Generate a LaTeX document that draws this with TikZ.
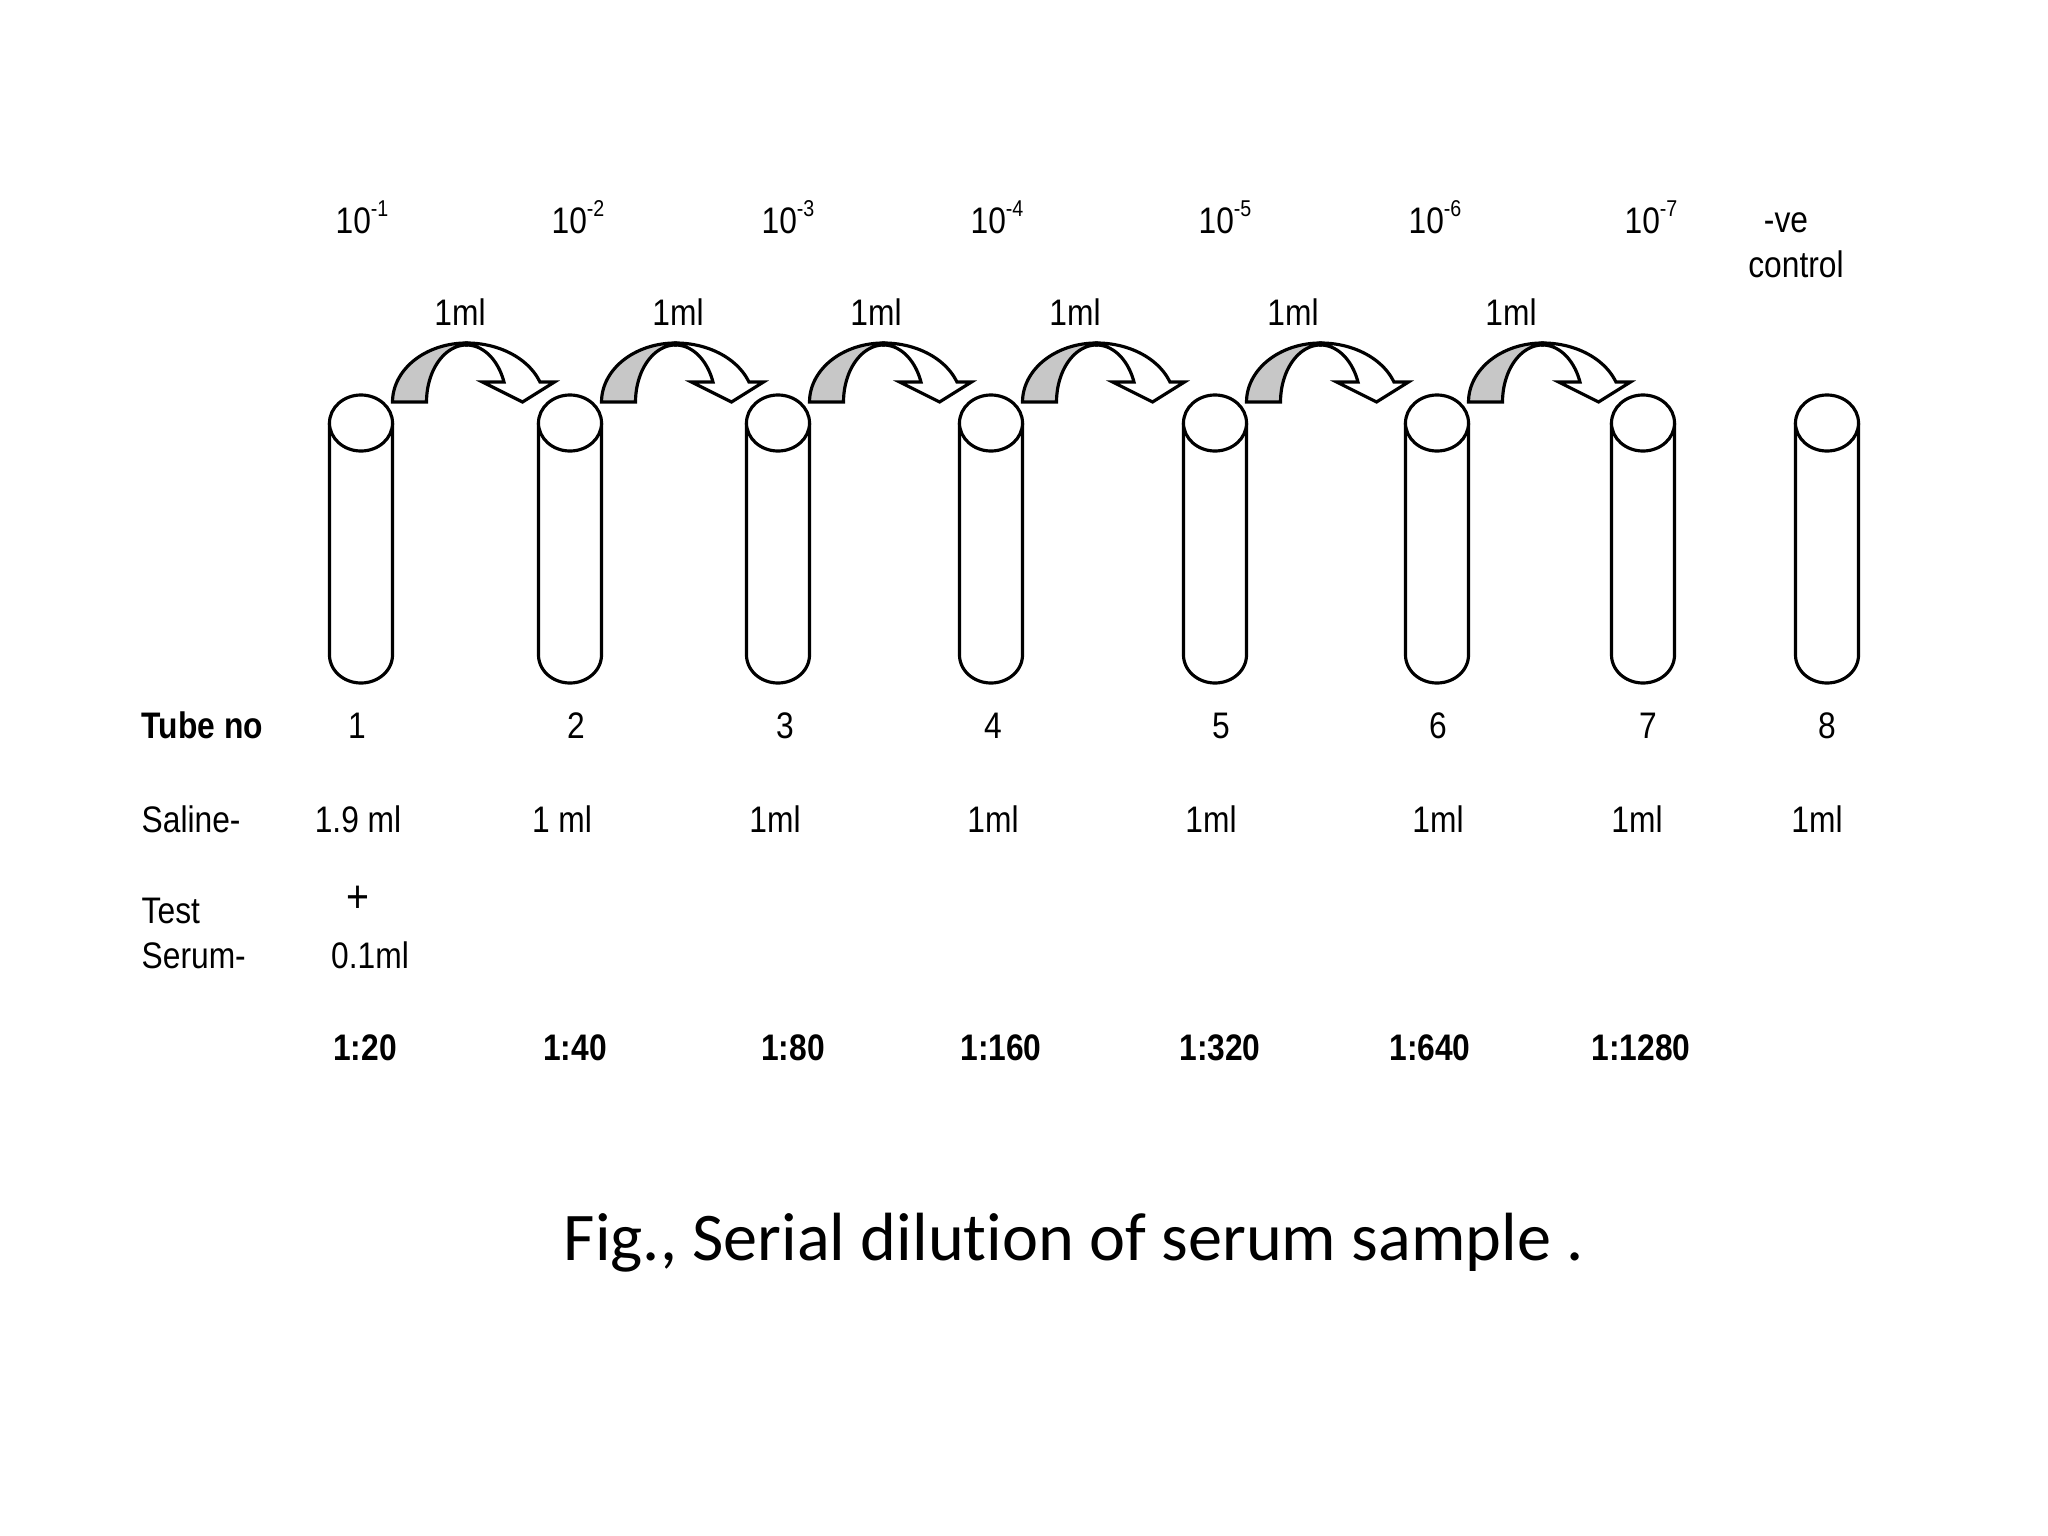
\documentclass[tikz,border=0pt]{standalone}
\usepackage{fontspec}
\newfontfamily\dg{Liberation Sans}[FakeStretch=0.86]
\newfontfamily\capfont{Carlito}[Ligatures=NoCommon]
\tikzset{
  outline/.style={draw=black, line width=0.9pt, line join=miter},
  lbl/.style={font=\dg\fontsize{10.5}{12}\selectfont, inner sep=0pt, anchor=base},
  blbl/.style={font=\dg\bfseries\fontsize{10.5}{12}\selectfont, inner sep=0pt, anchor=base},
  rowlbl/.style={lbl, anchor=base west},
  tube/.pic={
    \draw[outline, fill=white] (-31.5,0) -- (-31.5,232)
      -- plot[variable=\t, domain=180:0, samples=40] ({31.5*cos(\t)},{232+28*sin(\t)})
      -- (31.5,0);
    \draw[outline, fill=white] (0,0) ellipse [x radius=0.315cm, y radius=0.28cm];
  },
  curvearrow/.pic={
    % grey underside of the shaft
    \draw[outline, fill=black!22] (0,0)
      -- plot[variable=\t, domain=180:270, samples=40] ({74+74*cos(\t)},{59*sin(\t)})
      -- plot[variable=\t, domain=270:180, samples=40] ({74+40*cos(\t)},{57*sin(\t)})
      -- cycle;
    % white upper side and head
    \draw[outline, fill=white] (74,-59)
      -- plot[variable=\t, domain=270:340.2, samples=40] ({74+78*cos(\t)},{59*sin(\t)})
      -- (162,-20) -- (130,0) -- (90,-20)
      -- plot[variable=\t, domain=339.5:270, samples=40] ({74+40*cos(\t)},{57*sin(\t)})
      -- cycle;
  }
}
\newcommand{\pw}[1]{10\raisebox{0.45em}{\fontsize{6.5}{8}\selectfont -#1}}
\begin{document}
\begin{tikzpicture}[x=0.01cm, y=-0.01cm]
\useasboundingbox[fill=white] (0,0) rectangle (2048,1536);

% tube positions (centre of top opening)
\coordinate (t1) at (361,423);
\coordinate (t2) at (570,423);
\coordinate (t3) at (778,423);
\coordinate (t4) at (991,423);
\coordinate (t5) at (1215,423);
\coordinate (t6) at (1437,423);
\coordinate (t7) at (1643,423);
\coordinate (t8) at (1827,423);

\foreach \i in {1,...,8} { \pic at (t\i) {tube}; }

% transfer arrows from each tube to the next
\foreach \i in {1,...,6} {
  \pic at ([xshift=0.315cm, yshift=0.21cm]t\i) {curvearrow};
}

% dilution factors
\node[lbl] (d1) at (362,233) {\pw{1}};
\node[lbl] (d2) at (578,233) {\pw{2}};
\node[lbl] (d3) at (788,233) {\pw{3}};
\node[lbl] (d4) at (997,233) {\pw{4}};
\node[lbl] (d5) at (1225,233) {\pw{5}};
\node[lbl] (d6) at (1435,233) {\pw{6}};
\node[lbl] (d7) at (1651,233) {\pw{7}};
\node[lbl] (ve) at (1786,232) {-ve};
\node[lbl] (ctrl) at (1796,277) {control};

% volumes transferred
\node[lbl] (m1) at (460,325) {1ml};
\node[lbl] (m2) at (678,325) {1ml};
\node[lbl] (m3) at (876,325) {1ml};
\node[lbl] (m4) at (1075,325) {1ml};
\node[lbl] (m5) at (1293,325) {1ml};
\node[lbl] (m6) at (1511,325) {1ml};

% tube numbers
\node[blbl, anchor=base west] (tubeno) at (141,738) {Tube no};
\node[lbl] (n1) at (357,738) {1};
\node[lbl] (n2) at (576,738) {2};
\node[lbl] (n3) at (785,738) {3};
\node[lbl] (n4) at (993,738) {4};
\node[lbl] (n5) at (1221,738) {5};
\node[lbl] (n6) at (1438,738) {6};
\node[lbl] (n7) at (1648,738) {7};
\node[lbl] (n8) at (1827,738) {8};

% saline
\node[rowlbl] (saline) at (141,832) {Saline-};
\node[lbl] (s1) at (358,832) {1.9 ml};
\node[lbl] (s2) at (562,832) {1 ml};
\node[lbl] (s3) at (775,832) {1ml};
\node[lbl] (s4) at (993,832) {1ml};
\node[lbl] (s5) at (1211,832) {1ml};
\node[lbl] (s6) at (1438,832) {1ml};
\node[lbl] (s7) at (1637,832) {1ml};
\node[lbl] (s8) at (1817,832) {1ml};

% test serum
\node[lbl, anchor=center, font=\dg\fontsize{13}{14}\selectfont] (plus) at (358,899) {+};
\node[rowlbl] (test) at (141,923) {Test};
\node[rowlbl] (serum) at (141,968) {Serum-};
\node[lbl] (ts) at (370,968) {0.1ml};

% titres
\node[blbl] (r1) at (365,1060) {1:20};
\node[blbl] (r2) at (575,1060) {1:40};
\node[blbl] (r3) at (793,1060) {1:80};
\node[blbl] (r4) at (1001,1060) {1:160};
\node[blbl] (r5) at (1220,1060) {1:320};
\node[blbl] (r6) at (1430,1060) {1:640};
\node[blbl] (r7) at (1641,1060) {1:1280};

% caption
\node[anchor=base, inner sep=0pt, font=\capfont\fontsize{19.4}{23}\selectfont] (cap) at (1074,1260) {Fig., Serial dilution of serum sample .};
\end{tikzpicture}
\end{document}
